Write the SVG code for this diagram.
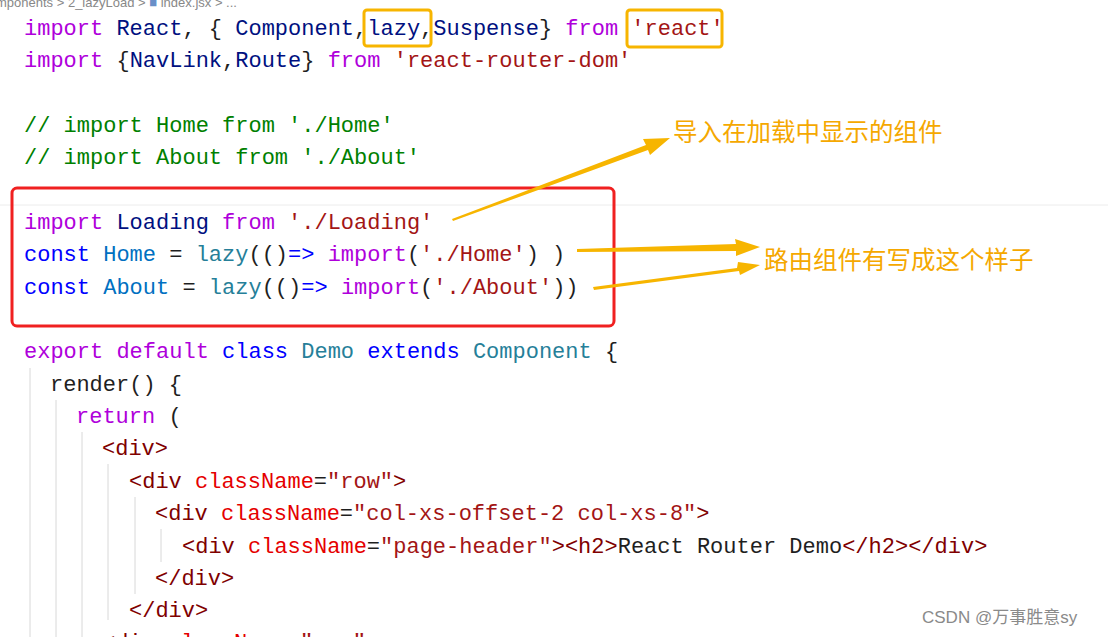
<svg xmlns="http://www.w3.org/2000/svg" width="1108" height="637" viewBox="0 0 1108 637">
<style>
.c{font-family:"Liberation Mono","DejaVu Sans Mono",monospace;font-size:22px;fill:#1f1f1f;white-space:pre}
.k{fill:#af00db}.b{fill:#0000ff}.v{fill:#001080}.t{fill:#267f99}.l{fill:#0070c1}.s{fill:#a31515}.g{fill:#008000}.m{fill:#800000}.a{fill:#e50000}
.ann{font-family:"Noto Sans CJK SC",sans-serif;font-size:24.5px;fill:#f5a800}
.box{fill:none;stroke:#f7b500;stroke-width:3}
.arr{fill:#f7b500}
.guide{stroke:#d8d8d8;stroke-width:1}
</style>
<rect width="1108" height="637" fill="#fff"/>
<text x="-4" y="7" font-family="Liberation Sans,sans-serif" font-size="13" fill="#888">mponents &gt; 2_lazyLoad &gt; <tspan fill="#6a8fc8">■</tspan> index.jsx &gt; ...</text>
<line x1="0" y1="205" x2="1108" y2="205" stroke="#ececec"/>
<g id="guides">
<line class="guide" x1="30" y1="368" x2="30" y2="637"/>
<line class="guide" x1="56" y1="400" x2="56" y2="637"/>
<line class="guide" x1="82" y1="432" x2="82" y2="637"/>
<line class="guide" x1="108" y1="464" x2="108" y2="620"/>
<line class="guide" x1="135" y1="497" x2="135" y2="594"/>
<line class="guide" x1="161" y1="529" x2="161" y2="562"/>
</g>
<g id="code">
<text class="c" x="24" y="35"><tspan class="k">import</tspan> <tspan class="v">React</tspan>, { <tspan class="v">Component</tspan>,<tspan class="v">lazy</tspan>,<tspan class="v">Suspense</tspan>} <tspan class="k">from</tspan> <tspan class="s">'react'</tspan></text>
<text class="c" x="24" y="67"><tspan class="k">import</tspan> {<tspan class="v">NavLink</tspan>,<tspan class="v">Route</tspan>} <tspan class="k">from</tspan> <tspan class="s">'react-router-dom'</tspan></text>
<text class="c g" x="24" y="132">// import Home from './Home'</text>
<text class="c g" x="24" y="164">// import About from './About'</text>
<text class="c" x="24" y="229"><tspan class="k">import</tspan> <tspan class="v">Loading</tspan> <tspan class="k">from</tspan> <tspan class="s">'./Loading'</tspan></text>
<text class="c" x="24" y="261"><tspan class="b">const</tspan> <tspan class="l">Home</tspan> = <tspan class="t">lazy</tspan>(()<tspan class="b">=&gt;</tspan> <tspan class="k">import</tspan>(<tspan class="s">'./Home'</tspan>) )</text>
<text class="c" x="24" y="294"><tspan class="b">const</tspan> <tspan class="l">About</tspan> = <tspan class="t">lazy</tspan>(()<tspan class="b">=&gt;</tspan> <tspan class="k">import</tspan>(<tspan class="s">'./About'</tspan>))</text>
<text class="c" x="24" y="358"><tspan class="k">export</tspan> <tspan class="k">default</tspan> <tspan class="b">class</tspan> <tspan class="t">Demo</tspan> <tspan class="b">extends</tspan> <tspan class="t">Component</tspan> {</text>
<text class="c" x="50" y="391">render() {</text>
<text class="c" x="76" y="423"><tspan class="k">return</tspan> (</text>
<text class="c m" x="102" y="455">&lt;div&gt;</text>
<text class="c" x="129" y="488"><tspan class="m">&lt;div</tspan> <tspan class="a">className</tspan>=<tspan class="s">"row"</tspan><tspan class="m">&gt;</tspan></text>
<text class="c" x="155" y="520"><tspan class="m">&lt;div</tspan> <tspan class="a">className</tspan>=<tspan class="s">"col-xs-offset-2 col-xs-8"</tspan><tspan class="m">&gt;</tspan></text>
<text class="c" x="182" y="553"><tspan class="m">&lt;div</tspan> <tspan class="a">className</tspan>=<tspan class="s">"page-header"</tspan><tspan class="m">&gt;&lt;h2&gt;</tspan>React Router Demo<tspan class="m">&lt;/h2&gt;&lt;/div&gt;</tspan></text>
<text class="c m" x="155" y="585">&lt;/div&gt;</text>
<text class="c m" x="129" y="617">&lt;/div&gt;</text>
<text class="c" x="102" y="649"><tspan class="m">&lt;div</tspan> <tspan class="a">className</tspan>=<tspan class="s">"row"</tspan></text>
</g>
<g id="boxes">
<rect class="box" x="364" y="10" width="67" height="36" rx="3"/>
<rect class="box" x="627" y="10" width="95" height="37" rx="3"/>
<rect x="12" y="188" width="602" height="138" rx="5" fill="none" stroke="#f02020" stroke-width="3"/>
</g>
<g id="connectors">
<polygon class="arr" points="452,219 646,145 643,139 670,138 650,155 648,150 453,221"/>
<polygon class="arr" points="577,249 736,244 735,239 760,247 736,256 736,251 577,252"/>
<polygon class="arr" points="593,287 737,268 738,262 760,265 740,275 739,271 594,290"/>
</g>
<g id="labels">
<text class="ann" x="673" y="141">导入在加载中显示的组件</text>
<text class="ann" x="764" y="269">路由组件有写成这个样子</text>
</g>
<text x="922" y="623" font-family="Liberation Sans,'Noto Sans CJK SC',sans-serif" font-size="17" fill="#8a8a8a">CSDN @万事胜意sy</text>
</svg>
